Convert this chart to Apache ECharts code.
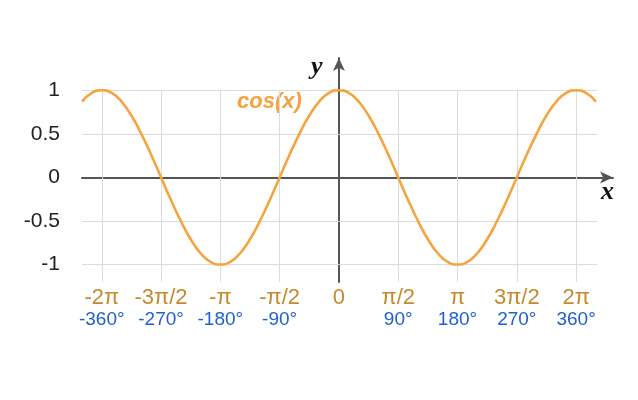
<!DOCTYPE html>
<html>
<head>
<meta charset="utf-8">
<script src="https://cdn.jsdelivr.net/npm/echarts@6/dist/echarts.min.js"></script>
<style>html,body{margin:0;padding:0;background:#fff}#c{width:638px;height:400px}</style>
</head>
<body>
<div id="c"></div>
<script>
// x positions of the curve samples, in degrees
const xDeg = [-390,-375,-360,-345,-330,-315,-300,-285,-270,-255,-240,-225,-210,-195,-180,-165,-150,-135,-120,-105,-90,-75,-60,-45,-30,-15,0,15,30,45,60,75,90,105,120,135,150,165,180,195,210,225,240,255,270,285,300,315,330,345,360,375,390];
// cos(x) values
const yVals = [0.87,0.97,1,0.97,0.87,0.71,0.5,0.26,0,-0.26,-0.5,-0.71,-0.87,-0.97,-1,-0.97,-0.87,-0.71,-0.5,-0.26,0,0.26,0.5,0.71,0.87,0.97,1,0.97,0.87,0.71,0.5,0.26,0,-0.26,-0.5,-0.71,-0.87,-0.97,-1,-0.97,-0.87,-0.71,-0.5,-0.26,0,0.26,0.5,0.71,0.87,0.97,1,0.97,0.87];
// x tick positions (degrees) and labels
const xTicks = [-360,-270,-180,-90,0,90,180,270,360];
const xRadLabels = ['-2π','-3π/2','-π','-π/2','0','π/2','π','3π/2','2π'];
const xDegLabels = ['-360°','-270°','-180°','-90°','','90°','180°','270°','360°'];
// y ticks
const yTicks = [1,0.5,0,-0.5,-1];
const yTickLabels = ['1','0.5','0','-0.5','-1'];
const seriesName = 'cos(x)';

const X_MIN = -390, X_MAX = 416, X_GRID_END = 392;
const Y_MIN = -1.2, Y_MAX = 1.37, Y_GRID_TOP = 1;

const gridColor = '#dcdcdc';
const lines = [];
xTicks.forEach((v, i) => {
  const lbl = '{a|' + xRadLabels[i] + '}\n{b|' + (xDegLabels[i] || ' ') + '}';
  lines.push([
    { coord: [v, Y_MIN], lineStyle: { color: v === 0 ? 'rgba(0,0,0,0)' : gridColor, width: 1, type: 'solid' },
      label: { show: true, position: 'start', distance: 5, formatter: lbl, rich: {
        a: { color: '#c48a2c', fontSize: 22, fontFamily: 'Liberation Sans, Arial', lineHeight: 22, align: 'center' },
        b: { color: '#1f5fd3', fontSize: 19, fontFamily: 'Liberation Sans, Arial', lineHeight: 22, align: 'center' }
      } } },
    { coord: [v, Y_GRID_TOP] }
  ]);
});
yTicks.forEach((v, i) => {
  lines.push([
    { coord: [X_MIN, v], lineStyle: { color: v === 0 ? 'rgba(0,0,0,0)' : gridColor, width: 1, type: 'solid' },
      label: { show: true, position: 'start', distance: 22, formatter: yTickLabels[i], color: '#222', fontSize: 21, fontFamily: 'Liberation Sans, Arial' } },
    { coord: [X_GRID_END, v] }
  ]);
});

const chart = echarts.init(document.getElementById('c'), null, { renderer: 'canvas' });
chart.setOption({
  animation: false,
  backgroundColor: '#fff',
  grid: { left: 82, right: 25, top: 58, bottom: 118, containLabel: false },
  xAxis: {
    type: 'value', min: X_MIN, max: X_MAX,
    axisLine: { show: true, onZero: true, lineStyle: { color: '#555', width: 2 }, symbol: ['none', 'arrow'], symbolSize: [9, 13] },
    axisTick: { show: false }, axisLabel: { show: false }, splitLine: { show: false }
  },
  yAxis: {
    type: 'value', min: Y_MIN, max: Y_MAX,
    axisLine: { show: true, onZero: true, lineStyle: { color: '#555', width: 2 }, symbol: ['none', 'arrow'], symbolSize: [9, 13] },
    axisTick: { show: false }, axisLabel: { show: false }, splitLine: { show: false }
  },
  series: [{
    name: seriesName,
    type: 'line',
    data: xDeg.map((x, i) => [x, yVals[i]]),
    smooth: 0.5,
    showSymbol: false,
    z: 3,
    lineStyle: { color: '#f7a440', width: 2.6 },
    markLine: { silent: true, symbol: ['none', 'none'], data: lines, z: 1 }
  }],
  graphic: [
    { type: 'text', left: 237, top: 91, style: { text: 'cos(x)', fill: '#f5a33f', font: 'italic bold 22px "Liberation Sans", Arial' } },
    { type: 'text', left: 311, top: 54, style: { text: 'y', fill: '#111', font: 'italic bold 26px "Liberation Serif", "Times New Roman"' } },
    { type: 'text', left: 601, top: 179, style: { text: 'x', fill: '#111', font: 'italic bold 26px "Liberation Serif", "Times New Roman"' } }
  ]
});
</script>
</body>
</html>
